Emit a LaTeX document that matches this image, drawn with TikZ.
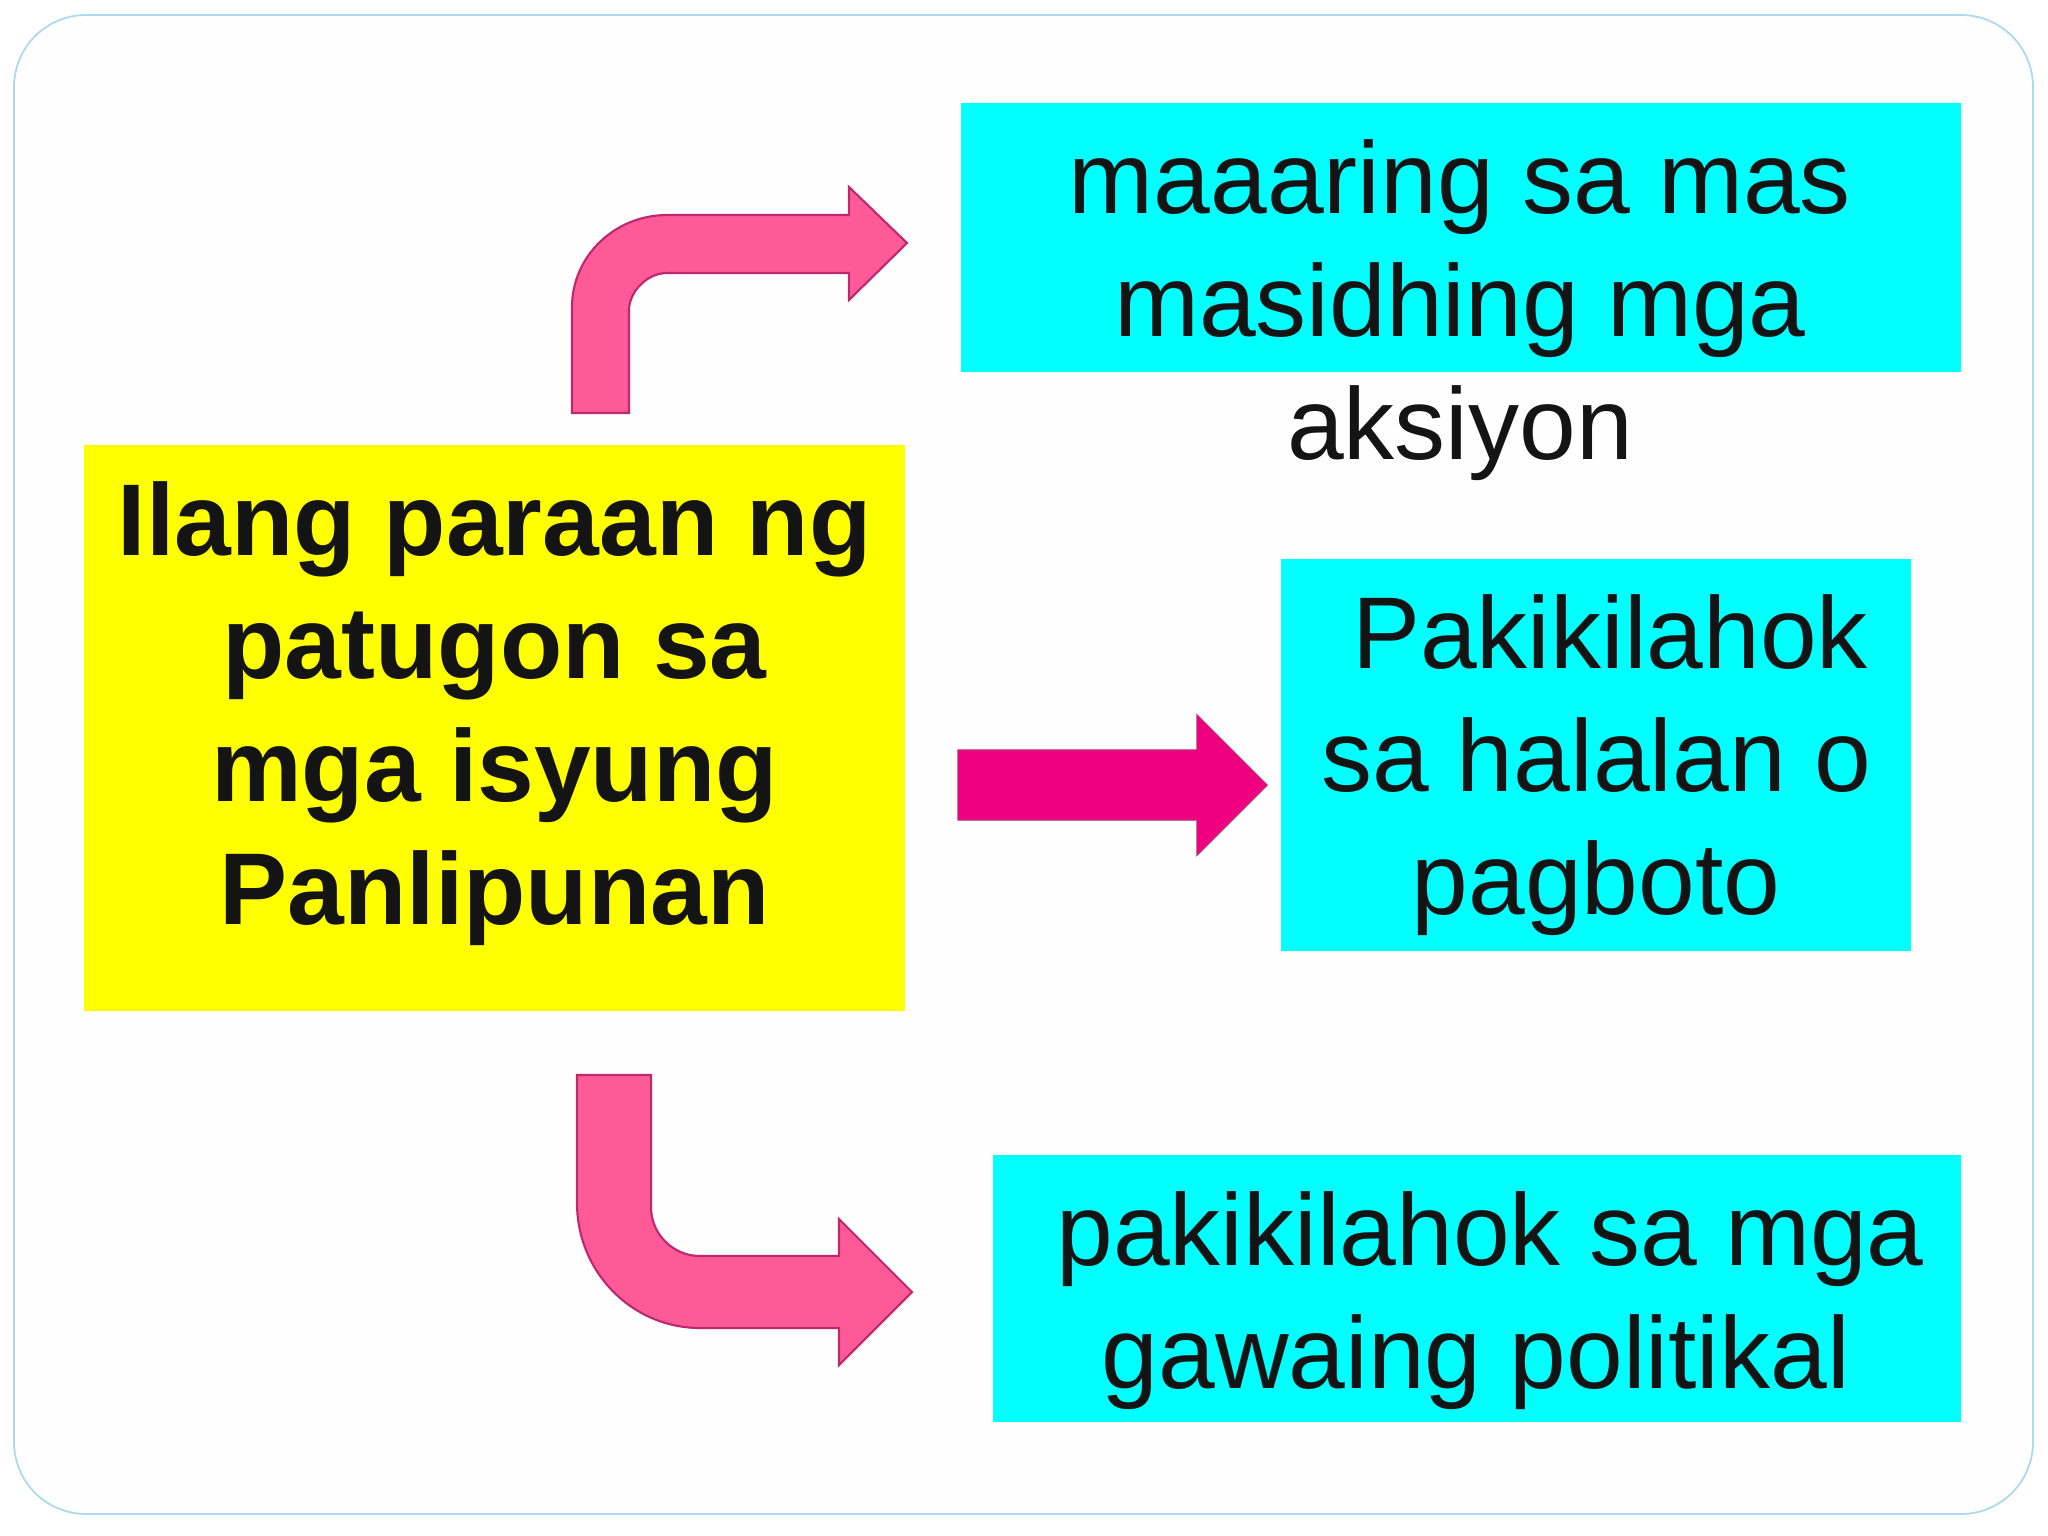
\documentclass[tikz,border=0pt]{standalone}
\usepackage{fontspec}
\setmainfont{Liberation Sans}
\definecolor{framecol}{RGB}{170,218,236}
\definecolor{bgcol}{RGB}{254,254,254}
\definecolor{yellowbox}{RGB}{255,255,0}
\definecolor{cyanbox}{RGB}{0,255,255}
\definecolor{textcol}{RGB}{20,20,20}
\definecolor{arrowpink}{RGB}{255,90,152}
\definecolor{arrowedge}{RGB}{190,40,110}
\definecolor{arrowmag}{RGB}{238,0,128}
\begin{document}
\begin{tikzpicture}[x=0.01cm,y=-0.01cm,
  box/.style={anchor=north west, inner sep=0pt, outer sep=0pt, draw=none},
  txt/.style={anchor=base, inner sep=0pt, text=textcol, font=\fontsize{29}{35}\selectfont},
  bentarrow/.style={fill=arrowpink, draw=arrowedge, line width=0.6pt, line join=miter},
  straightarrow/.style={fill=arrowmag, draw=arrowedge, line width=0.4pt, line join=miter},
]
\useasboundingbox (0,0) rectangle (2048,1536);
\fill[white] (0,0) rectangle (2048,1536);
\draw[framecol, line width=0.5pt, fill=bgcol, rounded corners=7.2mm] (14,15) rectangle (2033,1514);

% boxes
\node[box, fill=yellowbox, minimum width=8.21cm, minimum height=5.66cm] (main) at (84,445) {};
\node[box, fill=cyanbox, minimum width=9.99cm, minimum height=2.69cm] (top) at (961,103) {};
\node[box, fill=cyanbox, minimum width=6.30cm, minimum height=3.92cm] (mid) at (1281,559) {};
\node[box, fill=cyanbox, minimum width=9.67cm, minimum height=2.67cm] (bot) at (993,1155) {};

% texts
\node[txt, font=\fontsize{29}{35}\selectfont\bfseries] (maintext) at (494.5,555)
  {\begin{tabular}[t]{@{}c@{}}Ilang paraan ng\\ patugon sa\\ mga isyung\\ Panlipunan\end{tabular}};
\node[txt] (toptext) at (1460,213)
  {\begin{tabular}[t]{@{}c@{}}maaaring sa mas\\ masidhing mga\\ aksiyon\end{tabular}};
\node[txt] (midtext) at (1596,668)
  {\begin{tabular}[t]{@{}c@{}}\ Pakikilahok\\ sa halalan o\\ pagboto\end{tabular}};
\node[txt] (bottext) at (1476,1265)
  {\begin{tabular}[t]{@{}c@{}}\ pakikilahok sa mga\\ gawaing politikal\end{tabular}};

% arrows
\filldraw[bentarrow] (572,413) -- (572,307) .. controls (572,256) and (615,215) .. (667,215)
  -- (849,215) -- (849,187) -- (907,243) -- (849,300) -- (849,273) -- (667,273)
  .. controls (646,273) and (629,293) .. (629,310) -- (629,413) -- cycle;
\filldraw[straightarrow] (958,750) -- (1197,750) -- (1197,715) -- (1267,785)
  -- (1197,855) -- (1197,820) -- (958,820) -- cycle;
\filldraw[bentarrow] (577,1075) -- (577,1203) .. controls (577,1272) and (632,1328) .. (700,1328)
  -- (839,1328) -- (839,1365) -- (912,1292) -- (839,1219) -- (839,1256) -- (700,1256)
  .. controls (673,1256) and (651,1234) .. (651,1207) -- (651,1075) -- cycle;
\end{tikzpicture}
\end{document}
